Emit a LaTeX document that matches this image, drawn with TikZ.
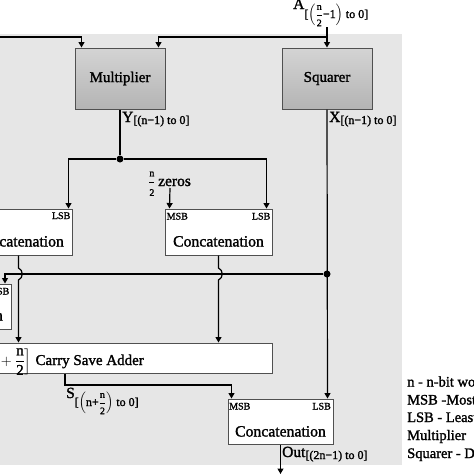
\documentclass[tikz,border=0pt]{standalone}
\usepackage{amsmath}
\usepackage{fontspec}
\setmainfont{Liberation Serif}[UprightFeatures={FakeBold=1.5}]
\usetikzlibrary{arrows.meta,calc}
\definecolor{bggray}{HTML}{E6E6E6}
\definecolor{boxtop}{HTML}{D4D4D4}
\definecolor{boxbot}{HTML}{B4B4B4}
\definecolor{edgegray}{HTML}{505050}
\newcommand{\fsz}[1]{\fontsize{#1}{#1}\selectfont}
\newcommand{\subl}[2]{\raisebox{#1}{\fsz{12}#2}}
\newcommand{\smfrac}[3]{\dfrac{\text{\fsz{#1}#2}}{\text{\fsz{#1}#3}}}
\begin{document}
\begin{tikzpicture}[x=1pt,y=-1pt,
  wire/.style={line width=1.2pt, black},
  arr/.style={wire, -{Triangle[length=5.5pt,width=6pt]}},
  unit/.style={draw=edgegray, line width=1pt, top color=boxtop, bottom color=boxbot, minimum width=90pt, minimum height=61pt, inner sep=0pt, font=\fsz{15}},
  catbox/.style={draw=edgegray, line width=1pt, fill=white, minimum width=107pt, minimum height=46pt, inner sep=0pt},
  cattext/.style={font=\fsz{15.7}, inner sep=0pt, anchor=base},
  bitlab/.style={font=\fsz{10}, inner sep=0pt},
  sig/.style={font=\fsz{15.5}, inner sep=0pt, anchor=base west},
  legend/.style={font=\fsz{14.5}, inner sep=0pt, anchor=base west},
  dot/.style={circle, fill=black, inner sep=0pt, minimum size=7pt}
]
\useasboundingbox (0,0) rectangle (474,474);
\clip (0,0) rectangle (474,474);
\fill[bggray] (-10,34) rectangle (402,465);

% units
\node[unit] (mult) at (120,78.5) {Multiplier};
\node[unit] (sq) at (327,78.5) {Squarer};

% concatenation boxes
\node[catbox] (c1) at (18.5,232) {};
\node[catbox] (c2) at (218.5,232) {};
\node[catbox, minimum height=45pt] (c3) at (-42.5,306.5) {};
\node[catbox, minimum width=105pt, minimum height=45pt] (c4) at (280.5,421.5) {};

\node[cattext] (c1t) at ($(c1.north)+(0,38)$) {Concatenation};
\node[cattext] (c2t) at ($(c2.north)+(0,38)$) {Concatenation};
\node[cattext] (c3t) at ($(c3.north)+(0,37)$) {Concatenation};
\node[cattext] (c4t) at ($(c4.north)+(0,38)$) {Concatenation};

\node[bitlab, anchor=base east] (c1l) at ($(c1.north east)+(-2,10.5)$) {LSB};
\node[bitlab, anchor=base east] (c2l) at ($(c2.north east)+(-2,11)$) {LSB};
\node[bitlab, anchor=base west] (c2m) at ($(c2.north west)+(2,11)$) {MSB};
\node[bitlab, anchor=base east] (c3l) at ($(c3.north east)+(-2,11)$) {LSB};
\node[bitlab, anchor=base east] (c4l) at ($(c4.north east)+(-2.5,11)$) {LSB};
\node[bitlab, anchor=base west] (c4m) at ($(c4.north west)+(1.5,11)$) {MSB};

% carry save adder
\node[draw=edgegray, line width=1pt, fill=white, minimum width=330pt, minimum height=30pt, inner sep=0pt] (csa) at (107,358) {};
\node[font=\fsz{15}, inner sep=0pt, anchor=base west] (csat) at (-2.5,365) {${}+\dfrac{\text{n}}{\text{2}}\Big]$ Carry Save Adder};

% inputs
\coordinate (lin) at (-5,37);
\coordinate (atop) at (327,27);
\coordinate (asplit) at (327,37);
\node[sig] (alab) at (293,9) {A\subl{-9pt}{[$\left(\smfrac{10}{n}{2}\text{−1}\right)$ to 0]}};
\draw[arr] (lin) -| ($(mult.north west)+(7,0)$);
\draw[arr] (atop) -- (sq.north);
\draw[arr] (asplit) -| ($(mult.north east)+(-7,0)$);

% Y branch
\node[dot] (ydot) at (120,159) {};
\node[sig] (ylab) at (122,122) {Y\subl{-2pt}{[(n−1) to 0]}};
\draw[wire] (mult.south) -- (ydot);
\draw[arr] (ydot) -| ($(c1.north east)+(-4,0)$);
\draw[arr] (ydot) -| ($(c2.north east)+(-6,0)$);

% zeros
\node[font=\fsz{15.5}, inner sep=0pt, anchor=base west] (zlab) at (148,186) {$\smfrac{10}{n}{2}$\,zeros};
\draw[arr] ($(zlab.base west)+(22,2)$) -- ($(c2.north west)+(5,0)$);

% X branch
\node[dot] (xdot) at (327,274) {};
\node[sig] (xlab) at (329,122) {X\subl{-2pt}{[(n−1) to 0]}};
\draw[arr] (sq.south) -- ($(c4.north east)+(-6,0)$);
\draw[arr] (xdot) -| ($(c3.north east)+(-6.5,0)$);

% concatenation outputs with hops
\draw[arr] (c1.south) -- (18.5,268) .. controls (23.5,270) and (23.5,278) .. (18.5,280) -- (c1.south |- csa.north);
\draw[arr] (c2.south) -- (218.5,268) .. controls (223.5,270) and (223.5,278) .. (218.5,280) -- (c2.south |- csa.north);

% CSA output
\coordinate (sbend) at (65,385);
\draw[arr] (sbend |- csa.south) -- (sbend) -| ($(c4.north west)+(4,0)$);
\node[sig] (slab) at (66,398) {S\subl{-8pt}{[$\left(\text{n+}\smfrac{10}{n}{2}\right)$ to 0]}};

% output
\coordinate (outend) at (280.5,474);
\draw[arr] (c4.south) -- (outend);
\node[sig] (olab) at (282,457) {Out\subl{-2pt}{[(2n−1) to 0]}};

% legend
\node[legend] (l1) at (407,386.5) {n - n-bit word};
\node[legend] (l2) at (407,404.5) {MSB -Most Significant Bit};
\node[legend] (l3) at (407,422) {LSB - Least Significant Bit};
\node[legend] (l4) at (407,440) {Multiplier};
\node[legend] (l5) at (407,458) {Squarer - D};
\end{tikzpicture}
\end{document}
